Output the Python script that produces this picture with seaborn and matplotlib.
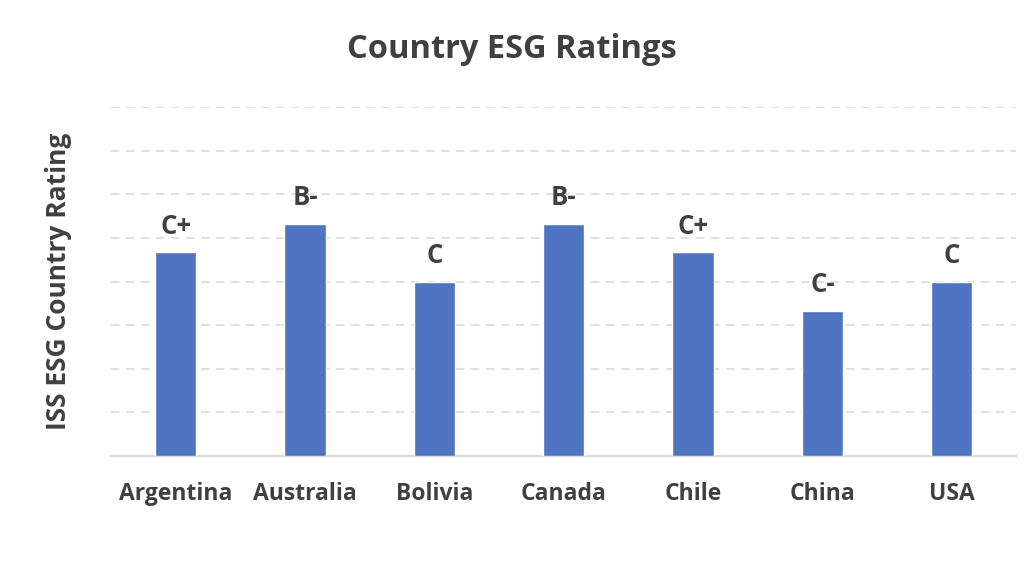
"""
    Country ESG ratings bar chart.
"""

import pandas as pd
import matplotlib.pyplot as plt
import seaborn as sns

# Data
countries = ['Argentina', 'Australia', 'Bolivia', 'Canada', 'Chile', 'China', 'USA']
grades = ['C+', 'B-', 'C', 'B-', 'C+', 'C-', 'C']
# numeric position of each grade on the rating scale (C = 4, steps of a third)
scores = [4.67, 5.33, 4.0, 5.33, 4.67, 3.33, 4.0]

BAR_COLOR = '#4F74C2'
TEXT_COLOR = '#404040'
GRID_COLOR = '#D9D9D9'

sns.set_theme(style="white")
plt.rcParams['font.family'] = ['Open Sans', 'DejaVu Sans']

df = pd.DataFrame({'Country': countries, 'Score': scores, 'Grade': grades})

fig = plt.figure(figsize=(10.24, 5.85), dpi=100)
ax = fig.add_axes([0.1085, 0.2205, 0.884, 0.5965])

sns.barplot(data=df, x='Country', y='Score', color=BAR_COLOR, width=0.32,
            saturation=1, ax=ax, zorder=3)

ax.set_ylim(0, 8)
ax.set_yticks(range(1, 9))
ax.yaxis.grid(True, linestyle=(0, (5, 4)), color=GRID_COLOR, linewidth=1.2, zorder=0)
ax.xaxis.grid(False)
ax.tick_params(axis='y', left=False, labelleft=False)
ax.tick_params(axis='x', bottom=False, pad=13, labelsize=16.5, labelcolor=TEXT_COLOR)
for lbl in ax.get_xticklabels():
    lbl.set_fontweight('bold')

for s in ['top', 'right', 'left']:
    ax.spines[s].set_visible(False)
ax.spines['bottom'].set_color(GRID_COLOR)
ax.spines['bottom'].set_linewidth(1.5)

for i, (v, g) in enumerate(zip(scores, grades)):
    ax.annotate(g, (i, v), xytext=(0, 9), textcoords='offset points',
                ha='center', va='bottom', fontsize=18.5, fontweight='bold',
                color=TEXT_COLOR)

ax.set_xlabel('')
ax.set_ylabel('ISS ESG Country Rating', fontsize=19, fontweight='bold',
              color=TEXT_COLOR, labelpad=28)
fig.text(0.5, 0.915, 'Country ESG Ratings', ha='center', va='center',
         fontsize=23.5, fontweight='bold', color=TEXT_COLOR)

fig.savefig('out.png', dpi=100)
